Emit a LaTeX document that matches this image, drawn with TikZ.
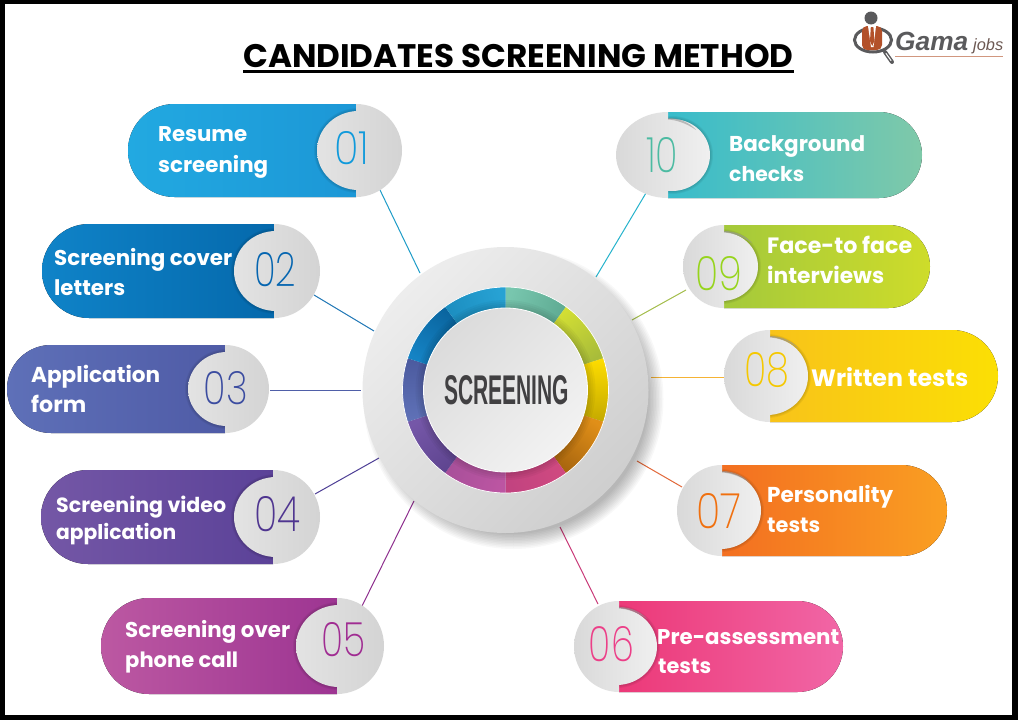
\documentclass[tikz,border=0pt]{standalone}
\usepackage{fontspec}
\usepackage{graphicx}
\setmainfont{Liberation Sans}
\newfontfamily\lblfont{Poppins}[BoldFont={Poppins Bold}]
\newfontfamily\numfont{Poppins ExtraLight}
\newfontfamily\ttlfont{Poppins}[BoldFont={Poppins Bold}]
\newfontfamily\logofont{Liberation Sans}
\definecolor{p01a}{HTML}{22A9E1}\definecolor{p01b}{HTML}{1C97D6}
\definecolor{p02a}{HTML}{0F83C8}\definecolor{p02b}{HTML}{0569AC}
\definecolor{p03a}{HTML}{5E70B8}\definecolor{p03b}{HTML}{4F5BA6}
\definecolor{p04a}{HTML}{7457A6}\definecolor{p04b}{HTML}{5B4298}
\definecolor{p05a}{HTML}{BC58A2}\definecolor{p05b}{HTML}{9D3592}
\definecolor{p06a}{HTML}{EC3978}\definecolor{p06b}{HTML}{F166A6}
\definecolor{p07a}{HTML}{F36F21}\definecolor{p07b}{HTML}{FA9F22}
\definecolor{p08a}{HTML}{F8C31A}\definecolor{p08b}{HTML}{FBDF04}
\definecolor{p09a}{HTML}{A4C93B}\definecolor{p09b}{HTML}{CEDC2A}
\definecolor{p10a}{HTML}{38BCCB}\definecolor{p10b}{HTML}{7FC9A9}
\definecolor{n01}{HTML}{109ADB}\definecolor{n02}{HTML}{0565B0}
\definecolor{n03}{HTML}{3B4CA0}\definecolor{n04}{HTML}{4F3590}
\definecolor{n05}{HTML}{A02C92}\definecolor{n06}{HTML}{EC3F88}
\definecolor{n07}{HTML}{F0700F}\definecolor{n08}{HTML}{F5C800}
\definecolor{n09}{HTML}{96D41C}\definecolor{n10}{HTML}{4CBBA2}
\definecolor{l01}{HTML}{1E9CC8}\definecolor{l02}{HTML}{1C75B5}
\definecolor{l03}{HTML}{4F5FA8}\definecolor{l04}{HTML}{4E3F96}
\definecolor{l05}{HTML}{8E2F8E}\definecolor{l06}{HTML}{C93A78}
\definecolor{l07}{HTML}{E2683A}\definecolor{l08}{HTML}{F5B335}
\definecolor{l09}{HTML}{A3BD4A}\definecolor{l10}{HTML}{25B3CC}
\definecolor{darktext}{HTML}{414042}
\definecolor{logogrey}{HTML}{5A5A5C}
\definecolor{logorust}{HTML}{B3512A}
\tikzset{
  lbl/.style={anchor=base west,inner sep=0pt,text=white,font=\lblfont\bfseries},
  num/.style={inner sep=0pt,font=\numfont},
  conn/.style={line width=1pt},
}
% id, L, seam, R, top, bot, inner edge
\newcommand\pillL[7]{%
  \pgfmathsetmacro\my{(#5+#6)/2}\pgfmathsetmacro\hh{(#6-#5)/2}%
  \pgfmathsetmacro\ry{\hh-7}\pgfmathsetmacro\rx{\ry+2}%
  \pgfmathsetmacro\cxx{#7+\rx}\pgfmathsetmacro\capr{#4-#3}\pgfmathsetmacro\lx{#2+\hh}%
  \fill[left color=p#1a,right color=p#1b] (#3,#5) -- (\lx,#5) arc[start angle=90,end angle=270,radius=\hh pt] -- (#3,#6) -- cycle;
  \begin{scope}
    \clip (#3,#5) -- (\lx,#5) arc[start angle=90,end angle=270,radius=\hh pt] -- (#3,#6) -- cycle;
    \foreach \e in {1,2,3}{\fill[black,opacity=.05] (\cxx,\my) ellipse[x radius=\rx pt+\e pt,y radius=\ry pt+\e pt];}
  \end{scope}
  \shade[left color=white!89!black,middle color=white!93!black,right color=white!83!black]
    (#3,#6) arc[start angle=-90,end angle=90,x radius=\capr pt,y radius=\hh pt] -- cycle
    (\cxx,\my) ellipse[x radius=\rx pt,y radius=\ry pt];
}
\newcommand\pillR[7]{%
  \pgfmathsetmacro\my{(#5+#6)/2}\pgfmathsetmacro\hh{(#6-#5)/2}%
  \pgfmathsetmacro\ry{\hh-7}\pgfmathsetmacro\rx{\ry+2}%
  \pgfmathsetmacro\cxx{#7-\rx}\pgfmathsetmacro\capr{#3-#2}\pgfmathsetmacro\lx{#4-\hh}%
  \fill[left color=p#1a,right color=p#1b] (#3,#5) -- (\lx,#5) arc[start angle=90,end angle=-90,radius=\hh pt] -- (#3,#6) -- cycle;
  \begin{scope}
    \clip (#3,#5) -- (\lx,#5) arc[start angle=90,end angle=-90,radius=\hh pt] -- (#3,#6) -- cycle;
    \foreach \e in {1,2,3}{\fill[black,opacity=.05] (\cxx,\my) ellipse[x radius=\rx pt+\e pt,y radius=\ry pt+\e pt];}
  \end{scope}
  \shade[left color=white!85!black,middle color=white!91!black,right color=white!94!black]
    (#3,#5) arc[start angle=90,end angle=270,x radius=\capr pt,y radius=\hh pt] -- cycle
    (\cxx,\my) ellipse[x radius=\rx pt,y radius=\ry pt];
  \fill[black!40,opacity=.6] (#3,#5+6) .. controls (#3+12,#5+6) and (#3+22,#5+11) .. (#3+28,#5+18)
    .. controls (#3+18,#5+11) and (#3+8,#5+8) .. (#3,#5+7.5) -- cycle;
}
% id, x1, x2, y1, y2, text
\newcommand\numnode[6]{%
  \pgfmathsetmacro\nw{#3-#2}\pgfmathsetmacro\nh{#5-#4}%
  \pgfmathsetmacro\nx{(#2+#3)/2}\pgfmathsetmacro\ny{(#4+#5)/2}%
  \node[num,text=n#1] (num#1) at (\nx,\ny) {\resizebox{\nw pt}{\nh pt}{#6}};
}
% name, x, baseline, width, text
\newcommand\lblline[5]{\node[lbl] (#1) at (#2,#3) {\resizebox{#4pt}{!}{#5}};}
% a1, a2, c1, c2
\newcommand\seg[4]{%
  \pgfmathsetmacro\mm{(#1+#2)/2}%
  \shade[top color=#4,bottom color=#3,shading angle=\mm]
    (#1:103pt) arc[start angle=#1,end angle=#2,radius=103pt] -- (#2:80pt) arc[start angle=#2,end angle=#1,radius=80pt] -- cycle;
}
\definecolor{s10a}{HTML}{5FAB93}\definecolor{s10b}{HTML}{78C6AE}
\definecolor{s09a}{HTML}{A8BC3A}\definecolor{s09b}{HTML}{D2DE34}
\definecolor{s08a}{HTML}{C4A900}\definecolor{s08b}{HTML}{FEDD00}
\definecolor{s07a}{HTML}{A9660F}\definecolor{s07b}{HTML}{E08F18}
\definecolor{s06a}{HTML}{C24380}\definecolor{s06b}{HTML}{D04A80}
\definecolor{s05a}{HTML}{A8509A}\definecolor{s05b}{HTML}{BC55A2}
\definecolor{s04a}{HTML}{7557A8}\definecolor{s04b}{HTML}{5F4590}
\definecolor{s03a}{HTML}{4B5A9E}\definecolor{s03b}{HTML}{6072B8}
\definecolor{s02a}{HTML}{0A659F}\definecolor{s02b}{HTML}{1583C4}
\definecolor{s01a}{HTML}{27A2D4}\definecolor{s01b}{HTML}{1C8EC0}
\begin{document}
\begin{tikzpicture}[x=1pt,y=-1pt]
\useasboundingbox (0,0) rectangle (1018,720);
\fill[black] (0,0) rectangle (1018,720);
\fill[white] (5,4) rectangle (1012,715);

% title
\node[inner sep=0pt,anchor=base west,font=\ttlfont\bfseries,text=black] (title) at (243,67) {\resizebox{550pt}{!}{CANDIDATES SCREENING METHOD}};
\draw[line width=2.6pt,black] ([yshift=-4.5pt]title.base west) -- ([yshift=-4.5pt]title.base east);

% connector ends
\coordinate (a01) at (380,190); \coordinate (b01) at (420,273);
\coordinate (a02) at (314,295); \coordinate (b02) at (374,331);
\coordinate (a03) at (270,390.5); \coordinate (b03) at (361,390.5);
\coordinate (a04) at (315,494); \coordinate (b04) at (379,458);
\coordinate (a05) at (362,606); \coordinate (b05) at (414,501);
\coordinate (a06) at (598,604); \coordinate (b06) at (560,527);
\coordinate (a07) at (682,487); \coordinate (b07) at (637,461);
\coordinate (a08) at (724,377.5); \coordinate (b08) at (651,377.5);
\coordinate (a09) at (686,290); \coordinate (b09) at (632,320);
\coordinate (a10) at (646,193); \coordinate (b10) at (596,277);
\foreach \i in {01,02,03,04,05,06,07,08,09,10}{\draw[conn,draw=l\i] (a\i) -- (b\i);}

% hub shadow
\foreach \r in {135,136.5,...,150}{\fill[black,opacity=.028] (513.5,399) circle[radius=\r pt];}
\shade[top color=white!93!black,bottom color=white!81!black,shading angle=45] (505.5,390) circle[radius=143pt];
\begin{scope}[shift={(505.5,390)}]
  \seg{54}{90}{s10a}{s10b}
  \seg{18}{54}{s09a}{s09b}
  \seg{-18}{18}{s08a}{s08b}
  \seg{-54}{-18}{s07a}{s07b}
  \seg{-90}{-54}{s06a}{s06b}
  \seg{-126}{-90}{s05a}{s05b}
  \seg{-162}{-126}{s04a}{s04b}
  \seg{162}{198}{s03a}{s03b}
  \seg{126}{162}{s02a}{s02b}
  \seg{90}{126}{s01a}{s01b}
  \draw[white,line width=.7pt] (0,0) circle[radius=103pt];
  \foreach \r in {84,86,88,90}{\fill[black,opacity=.035] (0,0) circle[radius=\r pt];}
\end{scope}
\node[circle,draw=white,line width=.8pt,minimum size=164pt,inner sep=0pt,top color=white!86!black,bottom color=white!95!black,shading angle=45] (hubdisc) at (505.5,390) {};
\node[inner sep=0pt,text=darktext,font=\bfseries] (hub) at (506.5,390) {\resizebox{125pt}{29pt}{SCREENING}};

% pills
\pillL{01}{128}{356}{402}{104}{197}{317}
\pillL{02}{42}{274}{320}{224}{318}{234}
\pillL{03}{7}{225}{269}{345}{433}{188}
\pillL{04}{41}{273}{320}{470}{564}{234}
\pillL{05}{101}{337}{384}{598}{694}{296}
\pillR{06}{574}{619}{843}{601}{692}{657}
\pillR{07}{677}{722}{947}{465}{556}{761}
\pillR{08}{724}{770}{998}{330}{422}{808}
\pillR{09}{683}{724}{930}{225}{308}{758}
\pillR{10}{616}{668}{922}{112}{198}{710}

% numbers
\numnode{01}{334}{369}{132}{165}{01}
\numnode{02}{254}{296}{253}{287}{02}
\numnode{03}{204}{248}{372}{405}{03}
\numnode{04}{254}{300}{497}{532}{04}
\numnode{05}{322}{366}{623}{657}{05}
\numnode{06}{589}{634}{627}{662}{06}
\numnode{07}{696}{741}{494}{529}{07}
\numnode{08}{744}{789}{353}{387}{08}
\numnode{09}{695}{742}{257}{291}{09}
\numnode{10}{646}{678}{138}{173}{10}

% labels
\lblline{t01a}{158}{141}{89}{Resume}
\lblline{t01b}{158}{172}{110}{screening}
\lblline{t02a}{54}{265}{178}{Screening cover}
\lblline{t02b}{54}{295}{71}{letters}
\lblline{t03a}{31}{382}{129}{Application}
\lblline{t03b}{31}{412}{55}{form}
\lblline{t04a}{56}{512}{170}{Screening video}
\lblline{t04b}{56}{539}{120}{application}
\lblline{t05a}{125}{637}{165}{Screening over}
\lblline{t05b}{125}{667}{113}{phone call}
\lblline{t06a}{657}{644}{182}{Pre-assessment}
\lblline{t06b}{658}{673}{53}{tests}
\lblline{t07a}{767}{502}{126}{Personality}
\lblline{t07b}{767}{532}{53}{tests}
\lblline{t08a}{811}{386}{157}{Written tests}
\lblline{t09a}{767}{253}{145}{Face-to face}
\lblline{t09b}{767}{283}{117}{interviews}
\lblline{t10a}{729}{151}{136}{Background}
\lblline{t10b}{729}{181}{75}{checks}

% logo
\draw[logogrey,line width=3pt] (873,40) ellipse[x radius=18.5pt,y radius=12pt];
\draw[logogrey,line width=4pt,line cap=round] (885,52) -- (892,62);
\draw[white,line width=1pt,line cap=round] (886,53.5) -- (891,60.5);
\fill[logogrey] (871,18) circle[radius=6.5pt];
\fill[logorust,rounded corners=5pt] (862,50) -- (862,26) -- (882,26) -- (882,50) -- cycle;
\fill[white] (868,26) -- (876,26) -- (873.5,47) -- (871,47) -- cycle;
\fill[logorust] (870.8,27) -- (873.4,27) -- (874.4,41) -- (872.2,46) -- (870,41) -- cycle;
\node[inner sep=0pt,anchor=base west,text=logogrey,font=\logofont\bfseries\itshape] (gama) at (895,50) {\resizebox{73pt}{!}{Gama}};
\node[inner sep=0pt,anchor=base west,text=logogrey!80!logorust,font=\logofont\itshape] (jobs) at (973,50) {\resizebox{30pt}{!}{jobs}};
\draw[logorust!60!white,line width=.8pt] ([yshift=-6pt]gama.base west) -- ([yshift=-6pt]jobs.base east);
\end{tikzpicture}
\end{document}
